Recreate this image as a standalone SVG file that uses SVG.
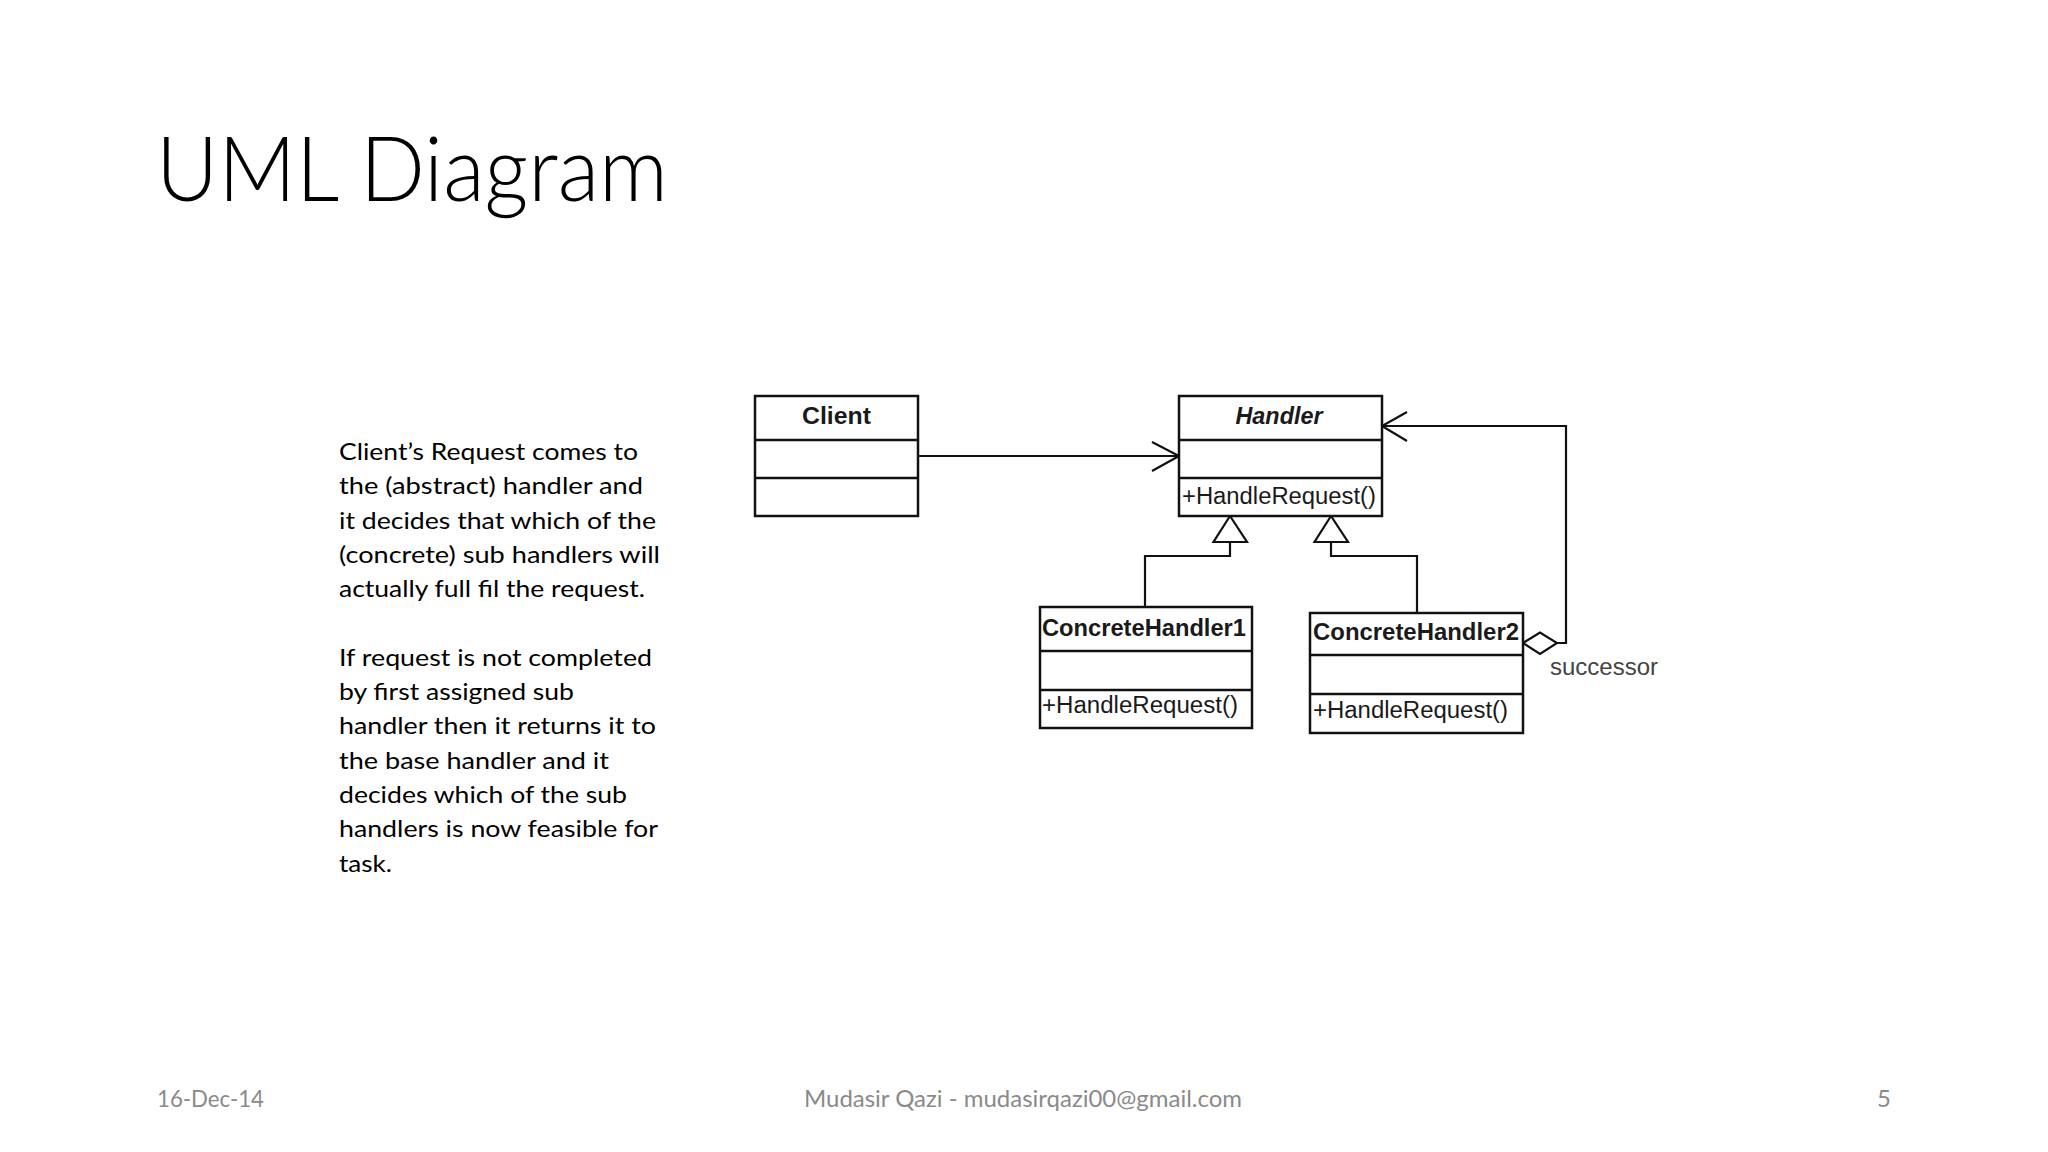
<svg xmlns="http://www.w3.org/2000/svg" width="2048" height="1152" viewBox="0 0 2048 1152">
<style>
.title{font-family:Lato,"Open Sans",sans-serif;font-weight:300;font-size:90px;fill:#000}
.body{font-family:Lato,"Open Sans",sans-serif;font-size:24px;fill:#000}
.foot{font-family:Lato,"Open Sans",sans-serif;font-size:24px;fill:#8a8a8a}
.box{fill:#fff;stroke:#111;stroke-width:2.5}
.sep{stroke:#111;stroke-width:2.5}
.cname{font-family:"Liberation Sans",Arial,sans-serif;font-weight:bold;font-size:23px;fill:#1a1a1a}
.meth{font-family:"Liberation Sans",Arial,sans-serif;font-size:23px;fill:#1a1a1a}
.conn{fill:none;stroke:#111;stroke-width:2.2}
.head{fill:#fff;stroke:#111;stroke-width:2.2}
</style>
<rect width="2048" height="1152" fill="#fff"/>
<text class="title" x="156" y="201" textLength="512" lengthAdjust="spacingAndGlyphs">UML Diagram</text>
<g id="description">
<text class="body" x="339" y="460" textLength="299" lengthAdjust="spacingAndGlyphs">Client’s Request comes to</text>
<text class="body" x="339" y="494.3" textLength="304" lengthAdjust="spacingAndGlyphs">the (abstract) handler and</text>
<text class="body" x="339" y="528.6" textLength="317" lengthAdjust="spacingAndGlyphs">it decides that which of the</text>
<text class="body" x="339" y="562.9" textLength="321" lengthAdjust="spacingAndGlyphs">(concrete) sub handlers will</text>
<text class="body" x="339" y="597.2" textLength="306" lengthAdjust="spacingAndGlyphs">actually full fil the request.</text>
<text class="body" x="339" y="665.8" textLength="313" lengthAdjust="spacingAndGlyphs">If request is not completed</text>
<text class="body" x="339" y="700.1" textLength="235" lengthAdjust="spacingAndGlyphs">by first assigned sub</text>
<text class="body" x="339" y="734.4" textLength="317" lengthAdjust="spacingAndGlyphs">handler then it returns it to</text>
<text class="body" x="339" y="768.7" textLength="270" lengthAdjust="spacingAndGlyphs">the base handler and it</text>
<text class="body" x="339" y="803" textLength="288" lengthAdjust="spacingAndGlyphs">decides which of the sub</text>
<text class="body" x="339" y="837.3" textLength="319" lengthAdjust="spacingAndGlyphs">handlers is now feasible for</text>
<text class="body" x="339" y="871.6" textLength="53" lengthAdjust="spacingAndGlyphs">task.</text>
</g>
<g id="connectors">
<line class="conn" x1="918" y1="456" x2="1179" y2="456"/>
<polyline class="conn" points="1152,442 1179,456 1152,471"/>
<polyline class="conn" points="1557,643 1566,643 1566,426 1382,426"/>
<polyline class="conn" points="1407,412 1382,426 1407,441"/>
<polygon class="head" points="1523,643 1540,632.5 1557,643 1540,654"/>
<polyline class="conn" points="1145,607 1145,556 1230,556 1230,542"/>
<polygon class="head" points="1230,516 1213.5,542 1247,542"/>
<polyline class="conn" points="1417,613 1417,556 1331,556 1331,542"/>
<polygon class="head" points="1331,516 1314.5,542 1348,542"/>
<text class="meth" x="1550" y="675" textLength="108" lengthAdjust="spacingAndGlyphs" style="fill:#444">successor</text>
</g>
<g id="client">
<rect class="box" x="755" y="396" width="163" height="120"/>
<line class="sep" x1="755" y1="440" x2="918" y2="440"/>
<line class="sep" x1="755" y1="478" x2="918" y2="478"/>
<text class="cname" x="836.5" y="424" text-anchor="middle" textLength="69" lengthAdjust="spacingAndGlyphs">Client</text>
</g>
<g id="handler">
<rect class="box" x="1179" y="396" width="203" height="120"/>
<line class="sep" x1="1179" y1="440" x2="1382" y2="440"/>
<line class="sep" x1="1179" y1="478" x2="1382" y2="478"/>
<text class="cname" x="1279" y="424" text-anchor="middle" font-style="italic" textLength="87" lengthAdjust="spacingAndGlyphs">Handler</text>
<text class="meth" x="1182" y="504" textLength="194" lengthAdjust="spacingAndGlyphs">+HandleRequest()</text>
</g>
<g id="concretehandler1">
<rect class="box" x="1040" y="607" width="212" height="121"/>
<line class="sep" x1="1040" y1="651" x2="1252" y2="651"/>
<line class="sep" x1="1040" y1="690" x2="1252" y2="690"/>
<text class="cname" x="1042" y="636" textLength="204" lengthAdjust="spacingAndGlyphs">ConcreteHandler1</text>
<text class="meth" x="1042" y="713" textLength="196" lengthAdjust="spacingAndGlyphs">+HandleRequest()</text>
</g>
<g id="concretehandler2">
<rect class="box" x="1310" y="613" width="213" height="120"/>
<line class="sep" x1="1310" y1="655" x2="1523" y2="655"/>
<line class="sep" x1="1310" y1="694" x2="1523" y2="694"/>
<text class="cname" x="1313" y="640" textLength="206" lengthAdjust="spacingAndGlyphs">ConcreteHandler2</text>
<text class="meth" x="1313" y="718" textLength="195" lengthAdjust="spacingAndGlyphs">+HandleRequest()</text>
</g>
<g id="footer">
<text class="foot" x="157" y="1107" textLength="107" lengthAdjust="spacingAndGlyphs">16-Dec-14</text>
<text class="foot" x="1023" y="1107" text-anchor="middle" textLength="438" lengthAdjust="spacingAndGlyphs">Mudasir Qazi - mudasirqazi00@gmail.com</text>
<text class="foot" x="1891" y="1107" text-anchor="end">5</text>
</g>
</svg>
